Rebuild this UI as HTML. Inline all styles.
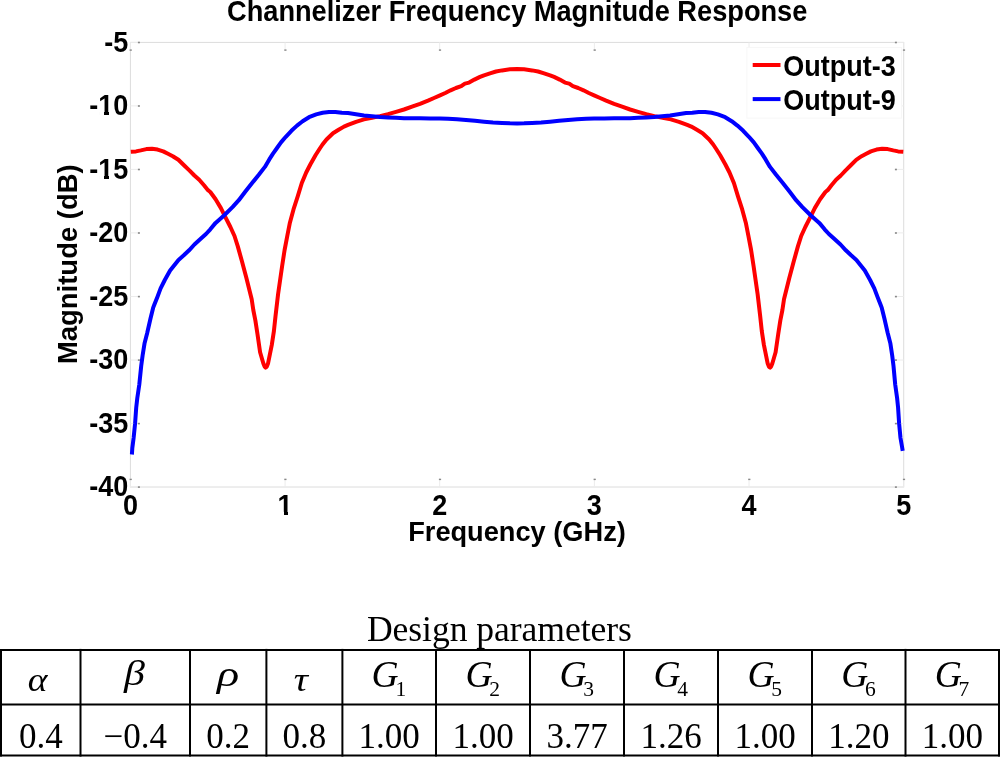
<!DOCTYPE html>
<html><head><meta charset="utf-8"><title>Channelizer Frequency Magnitude Response</title>
<style>
html,body{margin:0;padding:0;background:#fff;width:1000px;height:757px;overflow:hidden}
svg{display:block}
.ax{font-family:"Liberation Sans",Arial,sans-serif;font-weight:bold;font-size:27px;fill:#000}
.tb{font-family:"Liberation Serif","Times New Roman",serif;font-size:35px;fill:#000}
.it{font-style:italic}
</style></head><body>
<svg width="1000" height="757" viewBox="0 0 1000 757">
<rect x="0" y="0" width="1000" height="757" fill="#fff"/>

<rect x="130.4" y="42.4" width="773.3" height="444.6" fill="none" stroke="#dcdcdc" stroke-width="1"/>
<line x1="130.4" y1="42.4" x2="138.9" y2="42.4" stroke="#ececec" stroke-width="1"/>
<line x1="903.7" y1="42.4" x2="895.2" y2="42.4" stroke="#ececec" stroke-width="1"/>
<rect x="137.9" y="41.7" width="2" height="1.6" fill="#888"/>
<rect x="894.9" y="41.7" width="2" height="1.6" fill="#888"/>
<line x1="130.4" y1="105.9" x2="138.9" y2="105.9" stroke="#ececec" stroke-width="1"/>
<line x1="903.7" y1="105.9" x2="895.2" y2="105.9" stroke="#ececec" stroke-width="1"/>
<rect x="137.9" y="105.2" width="2" height="1.6" fill="#888"/>
<rect x="894.9" y="105.2" width="2" height="1.6" fill="#888"/>
<line x1="130.4" y1="169.4" x2="138.9" y2="169.4" stroke="#ececec" stroke-width="1"/>
<line x1="903.7" y1="169.4" x2="895.2" y2="169.4" stroke="#ececec" stroke-width="1"/>
<rect x="137.9" y="168.7" width="2" height="1.6" fill="#888"/>
<rect x="894.9" y="168.7" width="2" height="1.6" fill="#888"/>
<line x1="130.4" y1="232.9" x2="138.9" y2="232.9" stroke="#ececec" stroke-width="1"/>
<line x1="903.7" y1="232.9" x2="895.2" y2="232.9" stroke="#ececec" stroke-width="1"/>
<rect x="137.9" y="232.2" width="2" height="1.6" fill="#888"/>
<rect x="894.9" y="232.2" width="2" height="1.6" fill="#888"/>
<line x1="130.4" y1="296.5" x2="138.9" y2="296.5" stroke="#ececec" stroke-width="1"/>
<line x1="903.7" y1="296.5" x2="895.2" y2="296.5" stroke="#ececec" stroke-width="1"/>
<rect x="137.9" y="295.8" width="2" height="1.6" fill="#888"/>
<rect x="894.9" y="295.8" width="2" height="1.6" fill="#888"/>
<line x1="130.4" y1="360.0" x2="138.9" y2="360.0" stroke="#ececec" stroke-width="1"/>
<line x1="903.7" y1="360.0" x2="895.2" y2="360.0" stroke="#ececec" stroke-width="1"/>
<rect x="137.9" y="359.3" width="2" height="1.6" fill="#888"/>
<rect x="894.9" y="359.3" width="2" height="1.6" fill="#888"/>
<line x1="130.4" y1="423.5" x2="138.9" y2="423.5" stroke="#ececec" stroke-width="1"/>
<line x1="903.7" y1="423.5" x2="895.2" y2="423.5" stroke="#ececec" stroke-width="1"/>
<rect x="137.9" y="422.8" width="2" height="1.6" fill="#888"/>
<rect x="894.9" y="422.8" width="2" height="1.6" fill="#888"/>
<line x1="130.4" y1="487.0" x2="138.9" y2="487.0" stroke="#ececec" stroke-width="1"/>
<line x1="903.7" y1="487.0" x2="895.2" y2="487.0" stroke="#ececec" stroke-width="1"/>
<rect x="137.9" y="486.3" width="2" height="1.6" fill="#888"/>
<rect x="894.9" y="486.3" width="2" height="1.6" fill="#888"/>
<line x1="130.4" y1="487.0" x2="130.4" y2="478.5" stroke="#ececec" stroke-width="1"/>
<line x1="130.4" y1="42.4" x2="130.4" y2="50.9" stroke="#ececec" stroke-width="1"/>
<rect x="129.6" y="478.7" width="2.2" height="1.4" fill="#888"/>
<rect x="129.6" y="49.4" width="2.2" height="1.4" fill="#888"/>
<line x1="285.1" y1="487.0" x2="285.1" y2="478.5" stroke="#ececec" stroke-width="1"/>
<line x1="285.1" y1="42.4" x2="285.1" y2="50.9" stroke="#ececec" stroke-width="1"/>
<rect x="284.3" y="478.7" width="2.2" height="1.4" fill="#888"/>
<rect x="284.3" y="49.4" width="2.2" height="1.4" fill="#888"/>
<line x1="439.7" y1="487.0" x2="439.7" y2="478.5" stroke="#ececec" stroke-width="1"/>
<line x1="439.7" y1="42.4" x2="439.7" y2="50.9" stroke="#ececec" stroke-width="1"/>
<rect x="438.9" y="478.7" width="2.2" height="1.4" fill="#888"/>
<rect x="438.9" y="49.4" width="2.2" height="1.4" fill="#888"/>
<line x1="594.4" y1="487.0" x2="594.4" y2="478.5" stroke="#ececec" stroke-width="1"/>
<line x1="594.4" y1="42.4" x2="594.4" y2="50.9" stroke="#ececec" stroke-width="1"/>
<rect x="593.6" y="478.7" width="2.2" height="1.4" fill="#888"/>
<rect x="593.6" y="49.4" width="2.2" height="1.4" fill="#888"/>
<line x1="749.0" y1="487.0" x2="749.0" y2="478.5" stroke="#ececec" stroke-width="1"/>
<line x1="749.0" y1="42.4" x2="749.0" y2="50.9" stroke="#ececec" stroke-width="1"/>
<rect x="748.2" y="478.7" width="2.2" height="1.4" fill="#888"/>
<rect x="748.2" y="49.4" width="2.2" height="1.4" fill="#888"/>
<line x1="903.7" y1="487.0" x2="903.7" y2="478.5" stroke="#ececec" stroke-width="1"/>
<line x1="903.7" y1="42.4" x2="903.7" y2="50.9" stroke="#ececec" stroke-width="1"/>
<rect x="902.9" y="478.7" width="2.2" height="1.4" fill="#888"/>
<rect x="902.9" y="49.4" width="2.2" height="1.4" fill="#888"/>
<polyline points="130.8,151.8 136.0,151.4 140.8,150.4 146.4,149.1 152.0,148.8 157.6,149.6 163.2,151.4 168.0,153.8 172.8,156.2 178.4,159.8 184.0,165.3 189.6,170.6 194.4,175.5 199.2,179.8 204.0,185.3 208.0,190.2 210.3,192.0 215.6,199.3 220.9,208.1 225.1,216.6 230.4,227.0 234.5,236.0 237.8,246.4 242.0,261.5 246.4,278.1 251.7,299.3 253.3,310.0 255.4,320.6 257.5,334.3 260.1,352.3 263.3,363.2 264.6,366.6 265.6,367.6 266.7,366.9 268.1,363.2 271.8,344.9 273.9,331.1 275.5,316.3 278.1,294.0 282.1,266.2 284.6,250.0 287.3,235.9 289.9,222.7 293.5,209.4 297.8,196.2 301.8,183.0 306.2,172.5 310.3,164.5 315.5,155.3 319.5,149.0 322.5,144.5 326.5,139.5 333.0,133.2 338.6,129.8 344.0,126.6 348.0,124.9 356.0,121.8 364.0,119.4 372.0,117.8 380.0,116.1 388.0,114.1 396.0,111.8 404.0,109.5 412.0,106.6 420.0,103.8 428.0,100.6 434.0,98.0 440.0,95.4 445.3,93.0 450.6,90.3 455.9,88.0 461.2,86.2 464.9,83.6 469.1,82.6 474.4,79.6 480.0,76.9 484.0,75.3 490.0,73.3 496.0,71.5 502.0,70.4 510.0,69.3 517.1,69.0 524.1,69.3 532.1,70.4 538.1,71.5 544.1,73.3 550.1,75.3 554.1,76.9 559.7,79.6 565.0,82.6 569.2,83.6 572.9,86.2 578.2,88.0 583.5,90.3 588.8,93.0 594.1,95.4 600.1,98.0 606.1,100.6 614.1,103.8 622.1,106.6 630.1,109.5 638.1,111.8 646.3,114.1 654.4,116.1 662.6,117.8 670.8,119.4 679.0,121.8 687.2,124.9 691.3,126.6 696.9,129.8 702.6,133.2 709.2,139.5 713.2,144.5 716.2,149.0 720.2,155.3 725.4,164.5 729.5,172.5 733.9,183.0 737.9,196.2 742.2,209.4 745.8,222.7 748.4,235.9 751.1,250.0 753.6,266.2 757.6,294.0 760.2,316.3 761.8,331.1 763.9,344.9 767.6,363.2 769.0,366.9 770.1,367.6 771.1,366.6 772.4,363.2 775.6,352.3 778.2,334.3 780.3,320.6 782.4,310.0 784.0,299.3 789.3,278.1 793.7,261.5 797.9,246.4 801.2,236.0 805.3,227.0 810.6,216.6 814.8,208.1 820.1,199.3 825.4,192.0 827.7,190.2 831.5,185.3 836.1,179.8 840.8,175.5 845.4,170.6 850.8,165.3 856.2,159.8 861.6,156.2 866.2,153.8 870.9,151.4 876.5,149.6 882.1,148.8 887.7,149.1 893.3,150.4 898.1,151.4 903.3,151.8" fill="none" stroke="#ff0000" stroke-width="4" stroke-linejoin="round" stroke-linecap="butt"/>
<polyline points="131.9,454.5 132.3,448.3 133.6,438.0 135.1,423.4 136.2,407.9 137.3,398.0 139.3,384.5 141.2,366.0 142.6,355.5 144.5,343.6 147.2,333.0 150.5,318.5 153.1,307.9 154.2,305.0 157.4,296.9 160.6,288.4 164.8,280.0 170.1,270.5 174.3,265.2 178.5,259.9 183.8,255.3 189.1,250.3 194.4,244.5 200.7,238.8 206.0,234.0 210.3,229.3 215.6,222.9 224.0,215.5 232.5,207.1 238.8,200.2 245.2,191.8 252.3,182.8 258.8,174.8 264.9,166.9 269.3,159.4 273.0,153.6 277.0,148.0 281.0,142.4 285.8,136.8 291.4,130.8 297.0,125.6 302.6,121.2 309.0,117.2 316.2,114.4 322.6,112.8 329.0,112.0 335.4,112.0 341.8,112.8 348.0,113.0 356.0,114.2 364.0,115.4 372.0,116.2 380.0,117.0 388.0,117.4 396.0,117.8 404.0,118.2 420.0,118.3 430.0,118.4 440.0,118.6 448.0,118.8 457.0,119.3 466.0,119.9 475.0,120.8 484.0,121.7 493.0,122.5 502.0,123.0 510.0,123.3 517.1,123.4 524.1,123.3 532.1,123.0 541.1,122.5 550.1,121.7 559.1,120.8 568.1,119.9 577.1,119.3 586.1,118.8 594.1,118.6 604.1,118.4 614.1,118.3 630.1,118.2 638.1,117.8 646.1,117.4 654.1,117.0 662.1,116.2 670.1,115.4 678.1,114.2 686.1,113.0 692.3,112.8 698.7,112.0 705.1,112.0 711.5,112.8 717.9,114.4 725.2,117.2 731.7,121.2 737.4,125.6 743.2,130.8 748.9,136.8 753.8,142.4 757.8,148.0 761.9,153.6 765.6,159.4 770.0,166.9 776.1,174.8 782.6,182.8 789.7,191.8 796.1,200.2 802.4,207.1 810.9,215.5 819.3,222.9 824.6,229.3 828.9,234.0 834.2,238.8 840.5,244.5 845.8,250.3 851.1,255.3 856.4,259.9 860.6,265.2 864.8,270.5 870.1,280.0 874.3,288.4 877.5,296.9 880.7,305.0 881.8,307.9 884.4,318.5 887.7,333.0 890.4,343.6 892.2,355.5 893.5,366.0 895.2,384.5 897.1,398.0 898.1,407.9 899.1,423.4 900.5,438.0 901.9,446.0 902.7,450.8" fill="none" stroke="#0000ff" stroke-width="4" stroke-linejoin="round" stroke-linecap="butt"/>
<rect x="746.9" y="47.5" width="154.7" height="70.6" fill="#fff" stroke="#f7f7f7" stroke-width="1"/>
<line x1="752.7" y1="65" x2="780.5" y2="65" stroke="#ff0000" stroke-width="4"/>
<line x1="752.7" y1="99.1" x2="780.5" y2="99.1" stroke="#0000ff" stroke-width="4"/>
<text class="ax" transform="translate(783.20,75.60) scale(1.0,1.1)">Output-3</text>
<text class="ax" transform="translate(783.20,109.70) scale(1.0,1.1)">Output-9</text>
<text class="ax" transform="translate(128.30,51.80) scale(1.0,1.08)" text-anchor="end">-5</text>
<text class="ax" transform="translate(128.30,115.31) scale(1.0,1.08)" text-anchor="end">-10</text>
<text class="ax" transform="translate(128.30,178.83) scale(1.0,1.08)" text-anchor="end">-15</text>
<text class="ax" transform="translate(128.30,242.34) scale(1.0,1.08)" text-anchor="end">-20</text>
<text class="ax" transform="translate(128.30,305.86) scale(1.0,1.08)" text-anchor="end">-25</text>
<text class="ax" transform="translate(128.30,369.37) scale(1.0,1.08)" text-anchor="end">-30</text>
<text class="ax" transform="translate(128.30,432.89) scale(1.0,1.08)" text-anchor="end">-35</text>
<text class="ax" transform="translate(128.30,496.40) scale(1.0,1.08)" text-anchor="end">-40</text>
<text class="ax" transform="translate(130.40,515.20) scale(1.0,1.08)" text-anchor="middle">0</text>
<text class="ax" transform="translate(285.06,515.20) scale(1.0,1.08)" text-anchor="middle">1</text>
<text class="ax" transform="translate(439.72,515.20) scale(1.0,1.08)" text-anchor="middle">2</text>
<text class="ax" transform="translate(594.38,515.20) scale(1.0,1.08)" text-anchor="middle">3</text>
<text class="ax" transform="translate(749.04,515.20) scale(1.0,1.08)" text-anchor="middle">4</text>
<text class="ax" transform="translate(903.70,515.20) scale(1.0,1.08)" text-anchor="middle">5</text>
<rect x="99.3" y="111.8" width="4.7" height="3.4" fill="#fff"/><rect x="109" y="111.8" width="4.6" height="3.4" fill="#fff"/>
<rect x="99.3" y="175.8" width="4.7" height="3.4" fill="#fff"/><rect x="109" y="175.8" width="4.6" height="3.4" fill="#fff"/>
<rect x="278.3" y="511.8" width="5.7" height="3.4" fill="#fff"/><rect x="288" y="511.8" width="4.6" height="3.4" fill="#fff"/>
<text class="ax" transform="translate(227.00,20.70) scale(1.008,1.08)">Channelizer Frequency Magnitude Response</text>
<text class="ax" transform="translate(517.00,541.10) scale(1.008,1.0)" text-anchor="middle">Frequency (GHz)</text>
<text class="ax" transform="translate(77,264.2) rotate(-90) scale(1.017,1)" text-anchor="middle">Magnitude (dB)</text>
<text class="tb" x="366.9" y="641.2" style="font-size:35.6px" textLength="265" lengthAdjust="spacing">Design parameters</text>
<line x1="0" y1="649.9" x2="1000" y2="649.9" stroke="#000" stroke-width="2"/>
<line x1="0" y1="704.6" x2="1000" y2="704.6" stroke="#000" stroke-width="2"/>
<line x1="0" y1="755.6" x2="1000" y2="755.6" stroke="#000" stroke-width="2"/>
<line x1="1" y1="648.9" x2="1" y2="756.6" stroke="#000" stroke-width="2"/>
<line x1="80.5" y1="648.9" x2="80.5" y2="756.6" stroke="#000" stroke-width="2"/>
<line x1="190" y1="648.9" x2="190" y2="756.6" stroke="#000" stroke-width="2"/>
<line x1="266.4" y1="648.9" x2="266.4" y2="756.6" stroke="#000" stroke-width="2"/>
<line x1="342.4" y1="648.9" x2="342.4" y2="756.6" stroke="#000" stroke-width="2"/>
<line x1="436" y1="648.9" x2="436" y2="756.6" stroke="#000" stroke-width="2"/>
<line x1="530" y1="648.9" x2="530" y2="756.6" stroke="#000" stroke-width="2"/>
<line x1="624" y1="648.9" x2="624" y2="756.6" stroke="#000" stroke-width="2"/>
<line x1="718" y1="648.9" x2="718" y2="756.6" stroke="#000" stroke-width="2"/>
<line x1="812" y1="648.9" x2="812" y2="756.6" stroke="#000" stroke-width="2"/>
<line x1="905.5" y1="648.9" x2="905.5" y2="756.6" stroke="#000" stroke-width="2"/>
<line x1="999" y1="648.9" x2="999" y2="756.6" stroke="#000" stroke-width="2"/>
<text class="tb it" transform="translate(27.77,691.26) scale(1.073,0.982)">α</text>
<text class="tb it" transform="translate(123.93,685.48) scale(1.199,0.996)">β</text>
<text class="tb it" transform="translate(217.06,686.40) scale(1.323,1.021)">ρ</text>
<text class="tb it" transform="translate(293.81,691.26) scale(1.135,0.971)">τ</text>
<text class="tb" x="371.60" y="687.0"><tspan class="it" font-size="37.5">G</tspan></text>
<text class="tb" x="395.40" y="695.5" style="font-size:21.5px">1</text>
<text class="tb" x="465.40" y="687.0"><tspan class="it" font-size="37.5">G</tspan></text>
<text class="tb" x="489.20" y="695.5" style="font-size:21.5px">2</text>
<text class="tb" x="559.40" y="687.0"><tspan class="it" font-size="37.5">G</tspan></text>
<text class="tb" x="583.20" y="695.5" style="font-size:21.5px">3</text>
<text class="tb" x="653.40" y="687.0"><tspan class="it" font-size="37.5">G</tspan></text>
<text class="tb" x="677.20" y="695.5" style="font-size:21.5px">4</text>
<text class="tb" x="747.40" y="687.0"><tspan class="it" font-size="37.5">G</tspan></text>
<text class="tb" x="771.20" y="695.5" style="font-size:21.5px">5</text>
<text class="tb" x="841.15" y="687.0"><tspan class="it" font-size="37.5">G</tspan></text>
<text class="tb" x="864.95" y="695.5" style="font-size:21.5px">6</text>
<text class="tb" x="934.65" y="687.0"><tspan class="it" font-size="37.5">G</tspan></text>
<text class="tb" x="958.45" y="695.5" style="font-size:21.5px">7</text>
<text class="tb" x="40.75" y="748.1" text-anchor="middle">0.4</text>
<text class="tb" x="135.25" y="748.1" text-anchor="middle">−0.4</text>
<text class="tb" x="228.20" y="748.1" text-anchor="middle">0.2</text>
<text class="tb" x="304.40" y="748.1" text-anchor="middle">0.8</text>
<text class="tb" x="389.20" y="748.1" text-anchor="middle">1.00</text>
<text class="tb" x="483.00" y="748.1" text-anchor="middle">1.00</text>
<text class="tb" x="577.00" y="748.1" text-anchor="middle">3.77</text>
<text class="tb" x="671.00" y="748.1" text-anchor="middle">1.26</text>
<text class="tb" x="765.00" y="748.1" text-anchor="middle">1.00</text>
<text class="tb" x="858.75" y="748.1" text-anchor="middle">1.20</text>
<text class="tb" x="952.25" y="748.1" text-anchor="middle">1.00</text>
</svg>
</body></html>
